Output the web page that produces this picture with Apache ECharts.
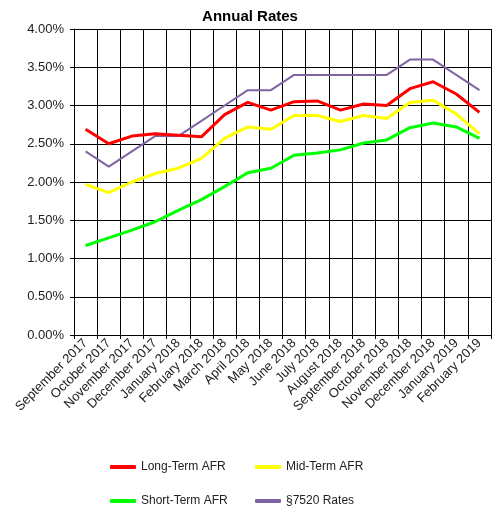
<!DOCTYPE html>
<html>
<head>
<meta charset="utf-8">
<script src="https://cdn.jsdelivr.net/npm/echarts@6/dist/echarts.min.js"></script>
<style>
  html, body { margin: 0; padding: 0; background: #fff; }
  #chart { width: 500px; height: 518px; }
</style>
</head>
<body>
<div id="chart"></div>
<script>
// 月份
const months = [
  'September 2017', 'October 2017', 'November 2017', 'December 2017',
  'January 2018', 'February 2018', 'March 2018', 'April 2018', 'May 2018',
  'June 2018', 'July 2018', 'August 2018', 'September 2018', 'October 2018',
  'November 2018', 'December 2018', 'January 2019', 'February 2019'
];
// 各利率 (%)
const longTerm = [2.69, 2.50, 2.60, 2.63, 2.61, 2.59, 2.88, 3.04, 2.94, 3.05, 3.06, 2.94, 3.02, 3.00, 3.22, 3.31, 3.15, 2.91];
const midTerm = [1.97, 1.86, 2.00, 2.11, 2.18, 2.31, 2.57, 2.72, 2.69, 2.87, 2.87, 2.79, 2.87, 2.83, 3.04, 3.07, 2.89, 2.63];
const shortTerm = [1.17, 1.27, 1.37, 1.48, 1.63, 1.77, 1.94, 2.12, 2.18, 2.35, 2.38, 2.42, 2.51, 2.55, 2.71, 2.77, 2.72, 2.57];
const rates7520 = [2.40, 2.20, 2.40, 2.60, 2.60, 2.80, 3.00, 3.20, 3.20, 3.40, 3.40, 3.40, 3.40, 3.40, 3.60, 3.60, 3.40, 3.20];

const FONT = '"Liberation Sans", Arial, sans-serif';

function lineSeries(name, data, color, width) {
  return {
    name: name,
    type: 'line',
    data: data,
    symbol: 'none',
    lineStyle: { color: color, width: width },
    itemStyle: { color: color }
  };
}

const chart = echarts.init(document.getElementById('chart'));

const legendBase = {
  orient: 'vertical',
  top: 456,
  itemWidth: 26,
  itemHeight: 4,
  itemGap: 22,
  icon: 'roundRect',
  textStyle: { fontFamily: FONT, fontSize: 12, color: '#222' }
};

chart.setOption({
  backgroundColor: '#fff',
  animation: false,
  title: {
    text: 'Annual Rates',
    left: 'center',
    top: 4,
    textStyle: { fontFamily: FONT, fontSize: 15, fontWeight: 'bold', color: '#000' }
  },
  legend: [
    Object.assign({}, legendBase, { left: 105, data: ['Long-Term AFR', 'Short-Term AFR'] }),
    Object.assign({}, legendBase, { left: 250, data: ['Mid-Term AFR', '§7520 Rates'] })
  ],
  grid: { left: 74, right: 9, top: 29, bottom: 183 },
  xAxis: {
    type: 'category',
    data: months,
    boundaryGap: true,
    axisLine: { lineStyle: { color: '#000', width: 1 } },
    axisTick: { show: true, interval: 0, length: 4, lineStyle: { color: '#000' } },
    splitLine: { show: true, interval: 0, lineStyle: { color: '#000', width: 1 } },
    axisLabel: {
      interval: 0,
      rotate: 45,
      margin: 6,
      fontFamily: FONT,
      fontSize: 13,
      color: '#222'
    }
  },
  yAxis: {
    type: 'value',
    min: 0,
    max: 4,
    interval: 0.5,
    axisLine: { show: true, lineStyle: { color: '#000', width: 1 } },
    axisTick: { show: true, length: 4, lineStyle: { color: '#000' } },
    splitLine: { show: true, lineStyle: { color: '#000', width: 1 } },
    axisLabel: {
      formatter: v => v.toFixed(2) + '%',
      margin: 10,
      fontFamily: FONT,
      fontSize: 13,
      color: '#222'
    }
  },
  series: [
    lineSeries('§7520 Rates', rates7520, '#8064A2', 2),
    lineSeries('Short-Term AFR', shortTerm, '#00FF00', 3),
    lineSeries('Mid-Term AFR', midTerm, '#FFFF00', 3),
    lineSeries('Long-Term AFR', longTerm, '#FF0000', 3)
  ]
});
</script>
</body>
</html>
